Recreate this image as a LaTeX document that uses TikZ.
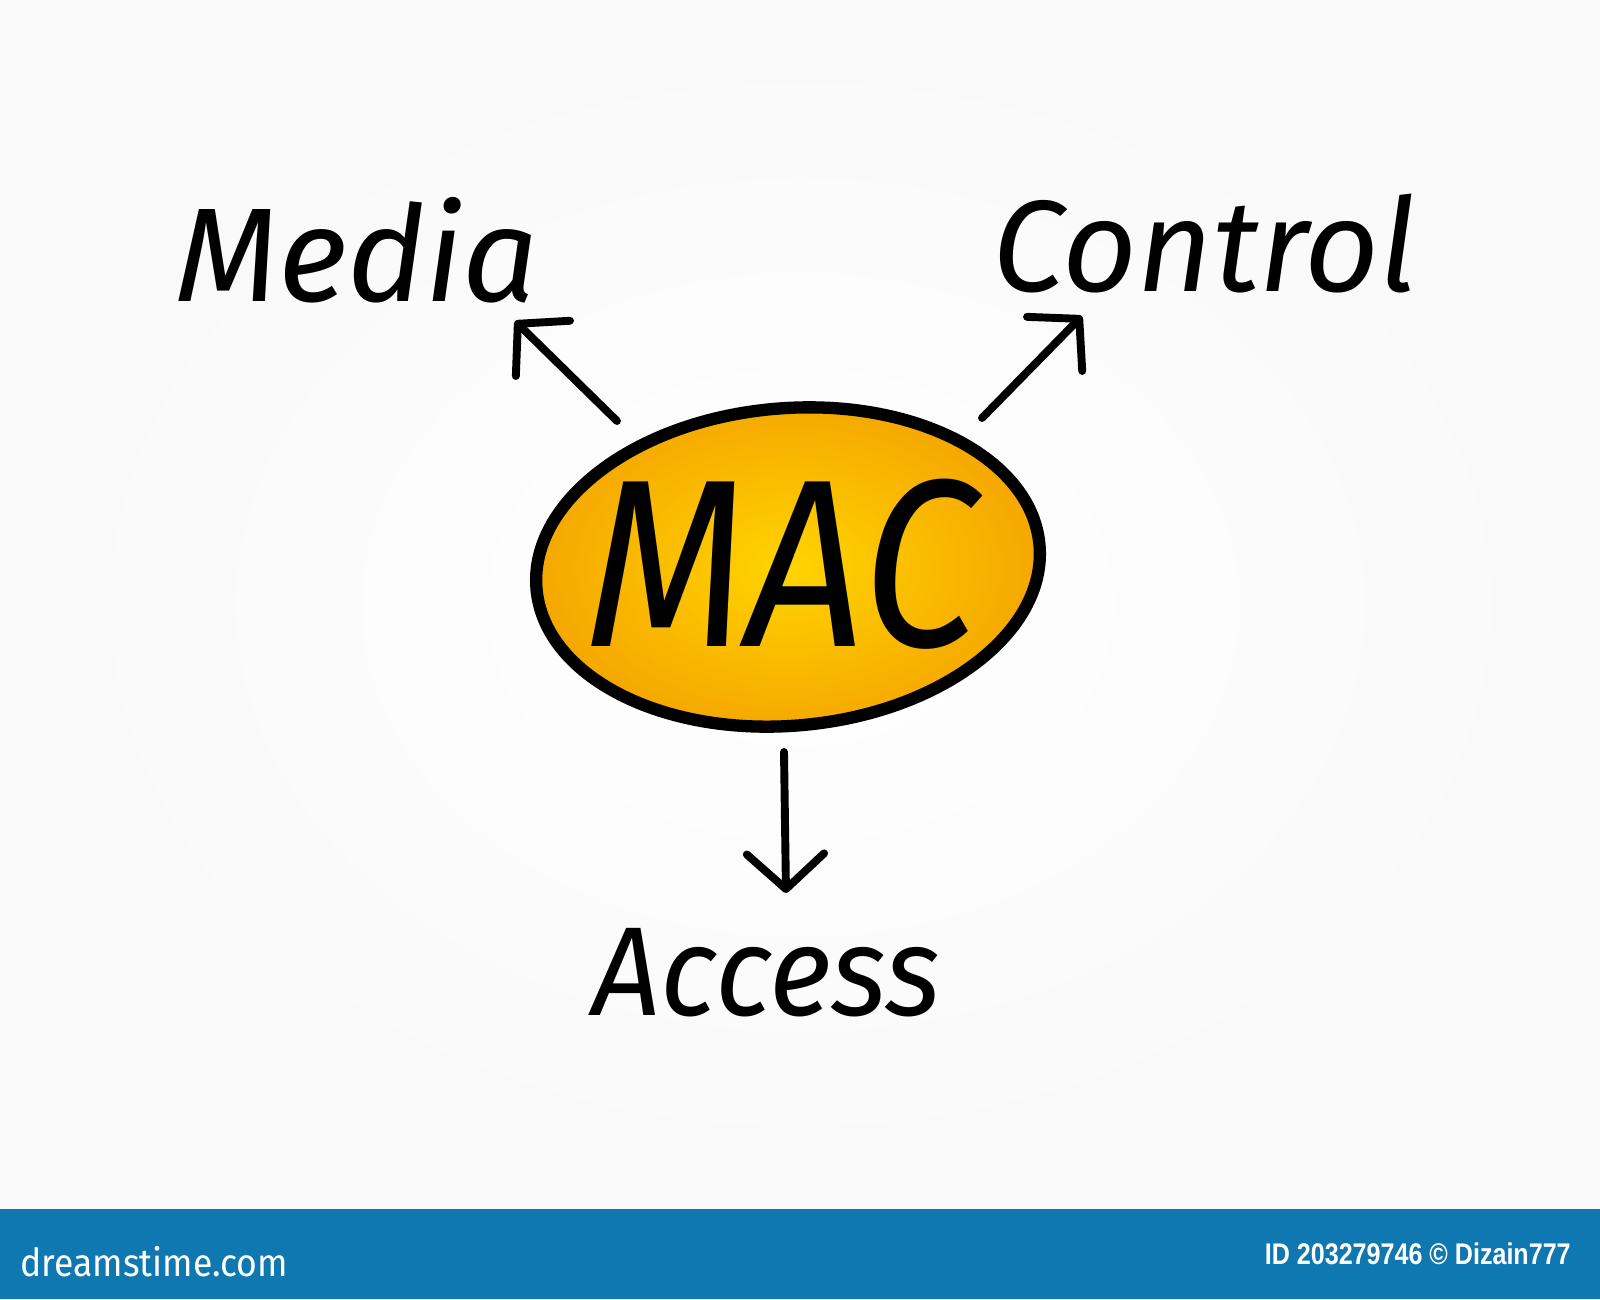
\documentclass[tikz,border=0pt]{standalone}
\usepackage{fontspec}
\setmainfont{Fira Sans}
\newfontfamily\barfont{Liberation Sans}
\usetikzlibrary{arrows.meta,shapes.geometric}
\definecolor{barblue}{RGB}{16,120,176}
\definecolor{macin}{RGB}{255,212,0}
\definecolor{macout}{RGB}{245,166,0}
\tikzset{
  word/.style={font=\itshape\fontsize{76}{80}\selectfont, inner sep=0pt, anchor=base},
  arr/.style={line width=4.5pt, line cap=round, line join=round,
    -{Straight Barb[length=20pt,width=44pt,round]}},
  bartext/.style={text=white, inner sep=0pt}
}
\begin{document}
\begin{tikzpicture}[x=0.02cm,y=-0.02cm]
\useasboundingbox (0,0) rectangle (1600,1299);
% background
\shade[inner color=white, outer color=gray!5] (0,0) rectangle (1600,1209);
\fill[barblue] (0,1209) rectangle (1600,1299);
% central ellipse
\node[ellipse, draw=black, line width=7pt, inner color=macin, outer color=macout,
  minimum width=10.1cm, minimum height=6.35cm, inner sep=0pt,
  rotate=5] (mac) at (788,567) {};
\node[inner sep=0pt, anchor=base, xscale=0.87, font=\itshape\fontsize{136}{140}\selectfont] (mactext) at (782,646) {MAC};
% words
\node[word] (media) at (357,301) {Media};
\node[word, font=\itshape\fontsize{74}{78}\selectfont] (control) at (1205,291) {Control};
\node[word, font=\itshape\fontsize{72}{76}\selectfont, xscale=0.95] (access) at (767,1015) {Access};
% arrow ends
\coordinate (m1) at (617,421);
\coordinate (m2) at (515,321);
\coordinate (c1) at (982,418);
\coordinate (c2) at (1082,316);
\coordinate (a1) at (784,752);
\coordinate (a2) at (786,893);
\draw[arr] (m1) -- (m2);
\draw[arr] (c1) -- (c2);
\draw[arr] (a1) -- (a2);
% bottom bar
\node[bartext, anchor=west, font=\fontsize{22}{24}\selectfont, xscale=0.92] (brand) at (20,1262) {dreamstime.com};
\node[bartext, anchor=east, font=\barfont\bfseries\fontsize{17}{20}\selectfont, xscale=0.84] (credit) at (1571,1254) {ID 203279746 © Dizain777};
\end{tikzpicture}
\end{document}
